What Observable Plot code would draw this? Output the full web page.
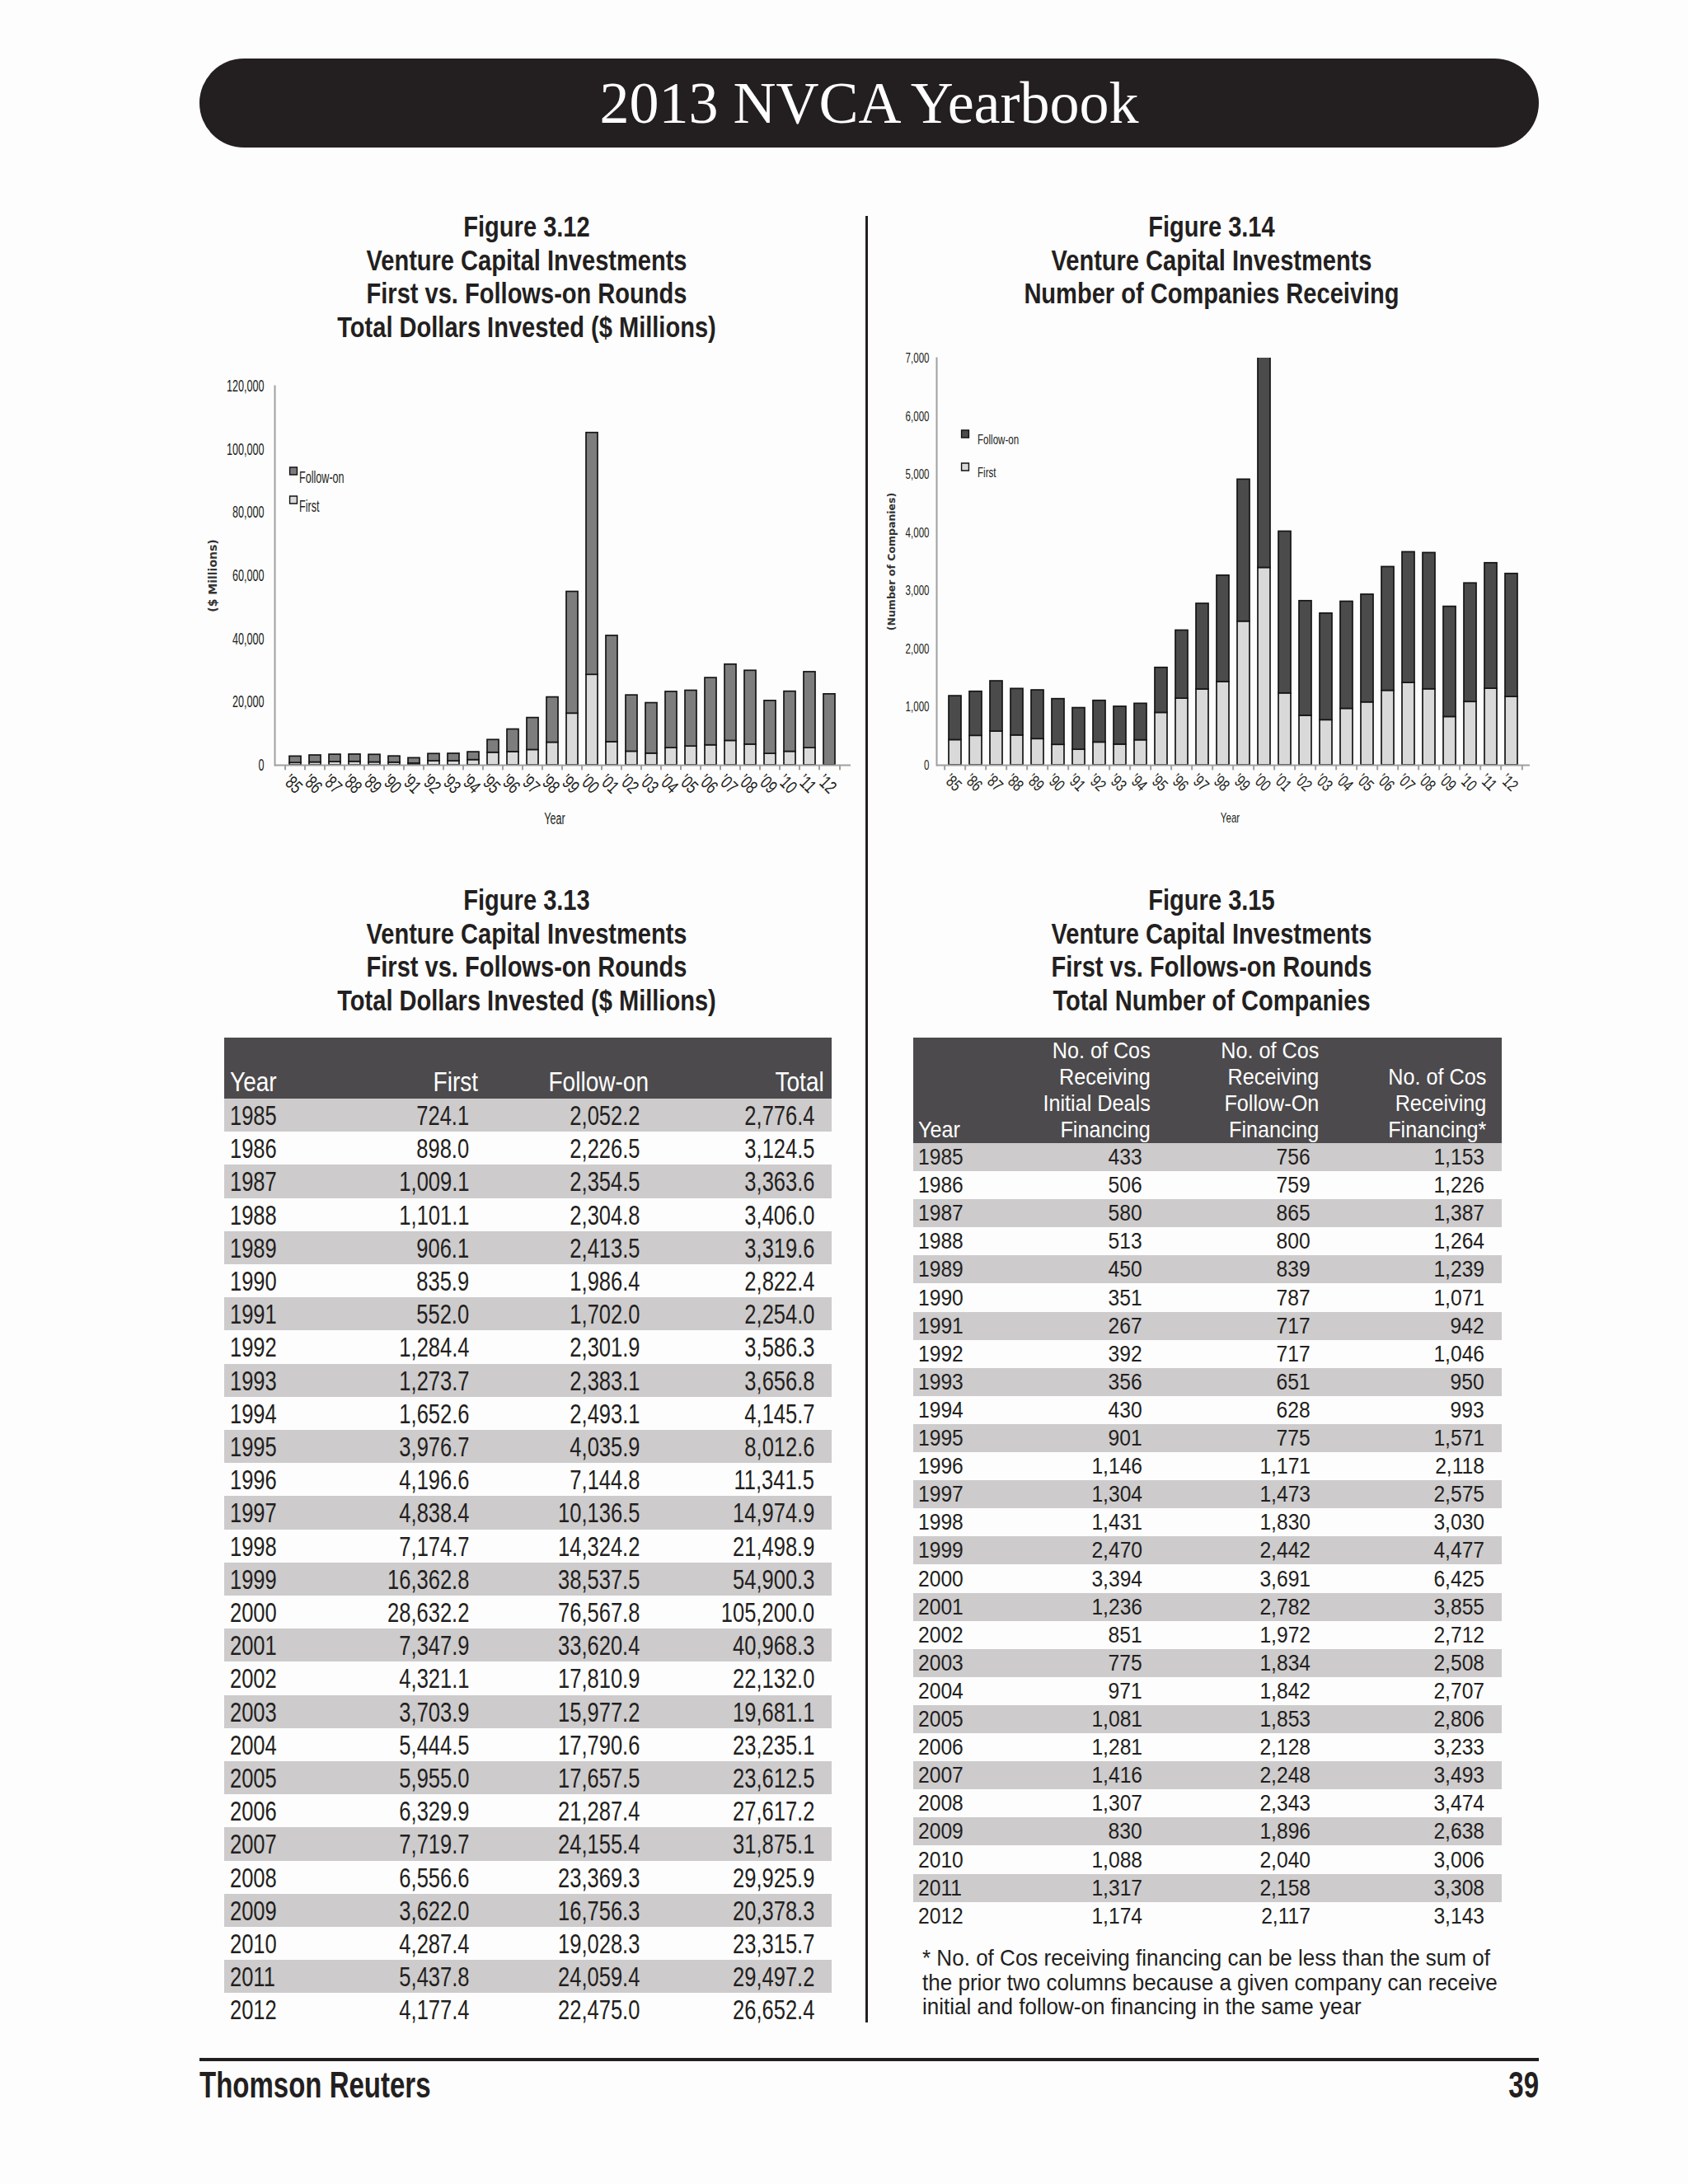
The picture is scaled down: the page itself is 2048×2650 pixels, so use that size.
<!DOCTYPE html>
<html><head><meta charset="utf-8">
<script src="https://cdn.jsdelivr.net/npm/d3@7"></script>
<script src="https://cdn.jsdelivr.net/npm/@observablehq/plot@0.6"></script>
<style>
body{margin:0;background:#fff;}
#page{position:relative;width:2048px;height:2650px;background:#fdfdfd;overflow:hidden;font-family:"Liberation Sans",Arial,sans-serif;color:#231f20;}
.abs{position:absolute;}
.banner{left:242px;top:71px;width:1625px;height:108px;border-radius:54px;background:#231f20;color:#fff;font-family:"Liberation Serif",serif;font-size:72px;text-align:center;line-height:108px;}
.title{width:800px;text-align:center;font-weight:bold;font-size:35px;line-height:40.5px;transform:scaleX(0.83);transform-origin:center;}
.hdr{background:#4c4a4c;color:#fff;}
.cellL{position:absolute;white-space:nowrap;transform-origin:left center;}
.cellR{position:absolute;white-space:nowrap;text-align:right;transform-origin:right center;}
.chart svg{overflow:visible;}
</style></head>
<body><div id="page"></div>
<script>
// ---------------- data ----------------
const years = [1985,1986,1987,1988,1989,1990,1991,1992,1993,1994,1995,1996,1997,1998,1999,2000,2001,2002,2003,2004,2005,2006,2007,2008,2009,2010,2011,2012];
const firstDollars = [724.1,898.0,1009.1,1101.1,906.1,835.9,552.0,1284.4,1273.7,1652.6,3976.7,4196.6,4838.4,7174.7,16362.8,28632.2,7347.9,4321.1,3703.9,5444.5,5955.0,6329.9,7719.7,6556.6,3622.0,4287.4,5437.8,4177.4];
const followOnDollars = [2052.2,2226.5,2354.5,2304.8,2413.5,1986.4,1702.0,2301.9,2383.1,2493.1,4035.9,7144.8,10136.5,14324.2,38537.5,76567.8,33620.4,17810.9,15977.2,17790.6,17657.5,21287.4,24155.4,23369.3,16756.3,19028.3,24059.4,22475.0];
const totalDollars = [2776.4,3124.5,3363.6,3406.0,3319.6,2822.4,2254.0,3586.3,3656.8,4145.7,8012.6,11341.5,14974.9,21498.9,54900.3,105200.0,40968.3,22132.0,19681.1,23235.1,23612.5,27617.2,31875.1,29925.9,20378.3,23315.7,29497.2,26652.4];
const firstCos = [433,506,580,513,450,351,267,392,356,430,901,1146,1304,1431,2470,3394,1236,851,775,971,1081,1281,1416,1307,830,1088,1317,1174];
const followOnCos = [756,759,865,800,839,787,717,717,651,628,775,1171,1473,1830,2442,3691,2782,1972,1834,1842,1853,2128,2248,2343,1896,2040,2158,2117];
const totalCos = [1153,1226,1387,1264,1239,1071,942,1046,950,993,1571,2118,2575,3030,4477,6425,3855,2712,2508,2707,2806,3233,3493,3474,2638,3006,3308,3143];
// In the Figure 3.12 picture the 2012 bar shows only its follow-on segment
const fig312YearsWithoutFirst = [2012];
const rounds = ["First","Follow-on"];
const yTicks312 = [0,20000,40000,60000,80000,100000,120000];
const yTicks314 = [0,1000,2000,3000,4000,5000,6000,7000];
const legendLabels = ["Follow-on","First"];
const titles312 = ["Figure 3.12","Venture Capital Investments","First vs. Follows-on Rounds","Total Dollars Invested ($ Millions)"];
const titles314 = ["Figure 3.14","Venture Capital Investments","Number of Companies Receiving"];
const titles313 = ["Figure 3.13","Venture Capital Investments","First vs. Follows-on Rounds","Total Dollars Invested ($ Millions)"];
const titles315 = ["Figure 3.15","Venture Capital Investments","First vs. Follows-on Rounds","Total Number of Companies"];
const head313 = ["Year","First","Follow-on","Total"];
const head315 = [["Year"],["No. of Cos","Receiving","Initial Deals","Financing"],["No. of Cos","Receiving","Follow-On","Financing"],["No. of Cos","Receiving","Financing*"]];
const footnote315 = ["* No. of Cos receiving financing can be less than the sum of","the prior two columns because a given company can receive","initial and follow-on financing in the same year"];

// ---------------- page furniture ----------------
const page = d3.select("#page");
page.append("div").attr("class","abs banner").text("2013 NVCA Yearbook");
function title(lines, left, top){
  page.append("div").attr("class","abs title").style("left",left+"px").style("top",top+"px").html(lines.join("<br>"));
}
title(titles312, 239, 255);
title(titles314, 1070, 255);
title(titles313, 239, 1072);
title(titles315, 1070, 1072);
page.append("div").attr("class","abs").style("left","1050px").style("top","262px").style("width","3px").style("height","2192px").style("background","#231f20");
page.append("div").attr("class","abs").style("left","242px").style("top","2497px").style("width","1625px").style("height","4px").style("background","#231f20");
page.append("div").attr("class","abs").style("left","242px").style("top","2507px").style("font-weight","bold").style("font-size","44px").style("line-height","46px").style("white-space","nowrap").style("transform","scaleX(0.75)").style("transform-origin","left center").text("Thomson Reuters");
page.append("div").attr("class","abs").style("left","1667px").style("width","200px").style("text-align","right").style("top","2507px").style("font-weight","bold").style("font-size","44px").style("line-height","46px").style("transform","scaleX(0.75)").style("transform-origin","right center").text("39");

// ---------------- tables ----------------
const fmt1 = d3.format(",.1f"), fmt0 = d3.format(",");
function table(cfg){
  const t = page.append("div").attr("class","abs").style("left",cfg.left+"px").style("top",cfg.top+"px").style("width",cfg.width+"px");
  const h = t.append("div").attr("class","hdr").style("position","relative").style("height",cfg.headH+"px").style("font-size",cfg.headFont+"px");
  cfg.head.forEach((lines,j)=>{
    const n = lines.length;
    const blockTop = cfg.headH - cfg.headLine*n;
    const d = h.append("div").attr("class", j===0?"cellL":"cellR")
      .style("top", blockTop+"px").style("line-height", cfg.headLine+"px")
      .style("transform","scaleX("+cfg.headScale+")")
      .html(lines.join("<br>"));
    if(j===0) d.style("left", cfg.yearLeft+"px"); else d.style("right", cfg.headRight[j-1]+"px");
  });
  cfg.rows.forEach((r,i)=>{
    const row = t.append("div").style("position","absolute").style("left","0px").style("width",cfg.width+"px")
      .style("top",(cfg.headH + i*cfg.rowH)+"px").style("height",cfg.rowH+"px")
      .style("background", i%2===0 ? "#cdcbcc" : "transparent")
      .style("font-size",cfg.rowFont+"px").style("line-height",cfg.rowH+"px");
    r.forEach((v,j)=>{
      const c = row.append("div").attr("class", j===0?"cellL":"cellR").style("top","0px")
        .style("transform","scaleX("+cfg.rowScale+")").text(v);
      if(j===0) c.style("left",cfg.yearLeft+"px"); else c.style("right",cfg.numRight[j-1]+"px");
    });
  });
}
table({left:272, top:1259, width:737, headH:74, headFont:33, headLine:40, headScale:0.85,
  head: head313.map(s=>[s]), headRight:[429,222,9], numRight:[440,233,21], yearLeft:7,
  rowH:40.2, rowFont:34, rowScale:0.75,
  rows: years.map((y,i)=>[String(y), fmt1(firstDollars[i]), fmt1(followOnDollars[i]), fmt1(totalDollars[i])])});
table({left:1108, top:1259, width:714, headH:128, headFont:28, headLine:32, headScale:0.9,
  head: head315, headRight:[426,222,19], numRight:[436,232,21], yearLeft:6,
  rowH:34.1, rowFont:28, rowScale:0.88,
  rows: years.map((y,i)=>[String(y), fmt0(firstCos[i]), fmt0(followOnCos[i]), fmt0(totalCos[i])])});
page.append("div").attr("class","abs").style("left","1119px").style("top","2361px").style("font-size","28px").style("line-height","29.5px").style("white-space","nowrap").style("transform","scaleX(0.93)").style("transform-origin","left top").html(footnote315.join("<br>"));

// ---------------- charts ----------------
const yrLabel = y => "\u2019" + String(y).slice(2);
function stackedChart(o){
  const data = years.flatMap((y,i)=>[
    {year:y, round:"First", value: o.skipFirst.includes(y) ? 0 : o.first[i]},
    {year:y, round:"Follow-on", value:o.follow[i]}
  ]);
  const axisGray = "#a0a0a0";
  const legend = legendLabels.flatMap((lab,i)=>[
    Plot.dot([lab], {frameAnchor:"top-left", dx:o.legDx, dy:o.legDy + i*o.legGap, symbol:"square", r:o.legR, fill: lab==="First"?o.colors[0]:o.colors[1], stroke:"#111", strokeWidth:1.4}),
    Plot.text([lab], {frameAnchor:"top-left", dx:o.legDx+o.legTextDx, dy:o.legDy + i*o.legGap, textAnchor:"start", fontSize:o.font, fill:"#231f20"})
  ]);
  return Plot.plot({
    width:o.width, height:o.height, marginLeft:o.ml, marginTop:o.mt, marginBottom:o.mb, marginRight:o.mr,
    style:{background:"transparent", fontFamily:'"Liberation Sans",Arial,sans-serif', color:"#231f20"},
    x:{type:"band", domain:years, paddingInner:0.4, paddingOuter:0.2, label:null},
    y:{domain:o.domain, label:null},
    color:{domain:rounds, range:o.colors},
    marks:[
      Plot.barY(data, {x:"year", y:"value", fill:"round", order:rounds, stroke:"#151515", strokeWidth:1.7, clip:true}),
      Plot.ruleY([0], {stroke:axisGray, strokeWidth:2}),
      Plot.frame({anchor:"left", stroke:axisGray, strokeWidth:2}),
      Plot.ruleX(years, {x:d=>d, y1:0, y2:-o.tickLen, dx:-o.half, stroke:axisGray, strokeWidth:2}),
      Plot.ruleX(years.slice(-1), {x:d=>d, y1:0, y2:-o.tickLen, dx:o.half, stroke:axisGray, strokeWidth:2}),
      Plot.axisY({ticks:o.yTicks, tickFormat:d3.format(","), tickSize:0, tickPadding:o.yPad, fontSize:o.font, label:null}),
      Plot.axisX({tickFormat:yrLabel, tickRotate:45, tickSize:0, tickPadding:o.xPad, dx:o.xDx, fontSize:o.xFont, label:null}),
      Plot.text(["Year"], {frameAnchor:"bottom", dy:o.yearDy, dx:o.yearDx, fontSize:o.font}),
      Plot.text([o.yTitle], {frameAnchor:"left", textAnchor:"middle", rotate:-90, dx:o.yTitleDx, fontFamily:"DejaVu Sans", fontWeight:"bold", fontSize:o.yTitleFont, letterSpacing:o.yTitleLs, fill:"#333"}),
      ...legend
    ]
  });
}
function squeeze(svg, factor, xFactor, skip){
  d3.select(svg).selectAll("text").each(function(){
    const t = this.textContent;
    if(skip.includes(t)) return;
    const len = this.getComputedTextLength();
    if(!len) return;
    const g = this.parentNode;
    const isX = g && g.getAttribute && g.getAttribute("aria-label") === "x-axis tick label";
    this.setAttribute("textLength", len*(isX ? xFactor : factor));
    this.setAttribute("lengthAdjust","spacingAndGlyphs");
  });
}
const c1 = stackedChart({width:870, height:600, ml:143, mt:38, mb:102, mr:28,
  first:firstDollars, follow:followOnDollars, skipFirst:fig312YearsWithoutFirst, domain:[0,120000], yTicks:yTicks312,
  colors:["#dadada","#7d7d7d"], tickLen:1600, half:12.5, yPad:13, xPad:15, xDx:-11, font:20, xFont:22,
  yearDy:71, yearDx:-10, yTitle:"($ Millions)", yTitleDx:-75, yTitleFont:14, yTitleLs:"0.6px",
  legDx:22.5, legDy:103, legGap:35, legR:5, legTextDx:7});
page.append("div").attr("class","abs chart").style("left","190px").style("top","430px").node().appendChild(c1);
squeeze(c1, 0.63, 0.75, ["($ Millions)"]);
const c2 = stackedChart({width:830, height:630, ml:76, mt:34, mb:102, mr:34,
  first:firstCos, follow:followOnCos, skipFirst:[], domain:[0,7000], yTicks:yTicks314,
  colors:["#d9d9d9","#4b4b4b"], tickLen:90, half:12.85, yPad:9, xPad:14, xDx:-10, font:17, xFont:20,
  yearDy:69, yearDx:-4, yTitle:"(Number of Companies)", yTitleDx:-55, yTitleFont:12.5, yTitleLs:"2.2px",
  legDx:34.5, legDy:92, legGap:40, legR:5, legTextDx:15});
page.append("div").attr("class","abs chart").style("left","1060px").style("top","400px").node().appendChild(c2);
squeeze(c2, 0.68, 0.75, ["(Number of Companies)"]);
</script>
</body></html>
